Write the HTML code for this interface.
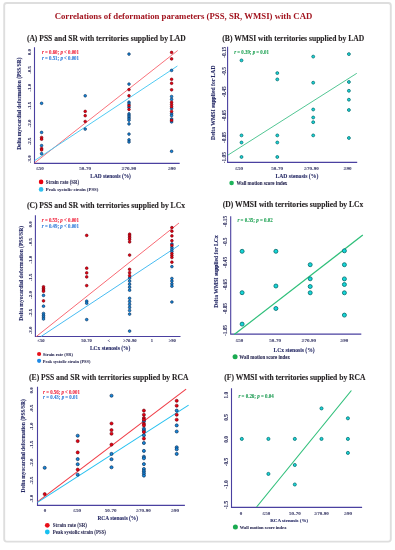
<!DOCTYPE html><html><head><meta charset="utf-8"><style>html,body{margin:0;padding:0;background:#fff;width:395px;height:550px;overflow:hidden}svg{display:block;will-change:transform;filter:blur(0.25px)}text{font-family:"Liberation Serif",serif}</style></head><body>
<svg width="395" height="550" viewBox="0 0 395 550">
<rect x="0" y="0" width="395" height="550" fill="#fff"/>
<rect x="4.2" y="3.0" width="386.6" height="538.6" rx="2.5" fill="none" stroke="#dedede" stroke-width="1.9"/>
<text x="54.70" y="18.86" font-size="8.74" fill="#a2141f" font-weight="bold" textLength="257.60" lengthAdjust="spacingAndGlyphs">Correlations of deformation parameters (PSS, SR, WMSI) with CAD</text>
<text x="26.90" y="40.92" font-size="7.19" fill="#231f20" font-weight="bold" textLength="158.90" lengthAdjust="spacingAndGlyphs" stroke="#231f20" stroke-width="0.1">(A) PSS and SR with territories supplied by LAD</text>
<path d="M34.5 47.3 V163.4 H179.7" fill="none" stroke="#4a40a0" stroke-width="1.1"/>
<text transform="translate(30.55,52.00) rotate(-90)" font-size="5.00" fill="#30305f" font-weight="bold" text-anchor="middle" stroke="#30305f" stroke-width="0.08">0.0</text>
<text transform="translate(30.55,69.88) rotate(-90)" font-size="5.00" fill="#30305f" font-weight="bold" text-anchor="middle" stroke="#30305f" stroke-width="0.08">-0.5</text>
<text transform="translate(30.55,87.76) rotate(-90)" font-size="5.00" fill="#30305f" font-weight="bold" text-anchor="middle" stroke="#30305f" stroke-width="0.08">-1.0</text>
<text transform="translate(30.55,105.64) rotate(-90)" font-size="5.00" fill="#30305f" font-weight="bold" text-anchor="middle" stroke="#30305f" stroke-width="0.08">-1.5</text>
<text transform="translate(30.55,123.52) rotate(-90)" font-size="5.00" fill="#30305f" font-weight="bold" text-anchor="middle" stroke="#30305f" stroke-width="0.08">-2.0</text>
<text transform="translate(30.55,141.40) rotate(-90)" font-size="5.00" fill="#30305f" font-weight="bold" text-anchor="middle" stroke="#30305f" stroke-width="0.08">-2.5</text>
<text transform="translate(30.55,159.28) rotate(-90)" font-size="5.00" fill="#30305f" font-weight="bold" text-anchor="middle" stroke="#30305f" stroke-width="0.08">-3.0</text>
<text transform="translate(20.89,103.65) rotate(-90)" font-size="5.40" fill="#262a66" font-weight="bold" text-anchor="middle" textLength="92.30" lengthAdjust="spacingAndGlyphs" stroke="#262a66" stroke-width="0.1">Delta myocardial deformation (PSS/SR)</text>
<text x="36.13" y="170.45" font-size="5.00" fill="#30305f" font-weight="bold" textLength="7.74" lengthAdjust="spacingAndGlyphs" stroke="#30305f" stroke-width="0.05">≤50</text>
<text x="79.37" y="170.45" font-size="5.00" fill="#30305f" font-weight="bold" textLength="11.66" lengthAdjust="spacingAndGlyphs" stroke="#30305f" stroke-width="0.05">50-70</text>
<text x="121.80" y="170.45" font-size="5.00" fill="#30305f" font-weight="bold" textLength="14.41" lengthAdjust="spacingAndGlyphs" stroke="#30305f" stroke-width="0.05">≥70-90</text>
<text x="168.13" y="170.45" font-size="5.00" fill="#30305f" font-weight="bold" textLength="7.74" lengthAdjust="spacingAndGlyphs" stroke="#30305f" stroke-width="0.05">≥90</text>
<text x="90.30" y="178.08" font-size="5.37" fill="#262a66" font-weight="bold" textLength="40.60" lengthAdjust="spacingAndGlyphs" stroke="#262a66" stroke-width="0.08">LAD stenosis (%)</text>
<line x1="34.6" y1="162.9" x2="177.7" y2="50.5" stroke="#f86a74" stroke-width="0.95"/>
<line x1="34.6" y1="160.6" x2="177.4" y2="66.0" stroke="#48c8f2" stroke-width="0.95"/>
<circle cx="41.6" cy="103.3" r="1.35" fill="#1488dc" stroke="#0a2850" stroke-width="0.6"/>
<circle cx="41.6" cy="132.4" r="1.35" fill="#1488dc" stroke="#0a2850" stroke-width="0.6"/>
<circle cx="41.6" cy="145.6" r="1.35" fill="#1488dc" stroke="#0a2850" stroke-width="0.6"/>
<circle cx="41.6" cy="153.7" r="1.35" fill="#1488dc" stroke="#0a2850" stroke-width="0.6"/>
<circle cx="85.2" cy="95.8" r="1.35" fill="#1488dc" stroke="#0a2850" stroke-width="0.6"/>
<circle cx="85.2" cy="129.1" r="1.35" fill="#1488dc" stroke="#0a2850" stroke-width="0.6"/>
<circle cx="129.0" cy="54.1" r="1.35" fill="#1488dc" stroke="#0a2850" stroke-width="0.6"/>
<circle cx="129.0" cy="84.1" r="1.35" fill="#1488dc" stroke="#0a2850" stroke-width="0.6"/>
<circle cx="129.0" cy="102.2" r="1.35" fill="#1488dc" stroke="#0a2850" stroke-width="0.6"/>
<circle cx="129.0" cy="104.0" r="1.35" fill="#1488dc" stroke="#0a2850" stroke-width="0.6"/>
<circle cx="129.0" cy="107.2" r="1.35" fill="#1488dc" stroke="#0a2850" stroke-width="0.6"/>
<circle cx="129.0" cy="113.9" r="1.35" fill="#1488dc" stroke="#0a2850" stroke-width="0.6"/>
<circle cx="129.0" cy="115.4" r="1.35" fill="#1488dc" stroke="#0a2850" stroke-width="0.6"/>
<circle cx="129.0" cy="117.0" r="1.35" fill="#1488dc" stroke="#0a2850" stroke-width="0.6"/>
<circle cx="129.0" cy="118.6" r="1.35" fill="#1488dc" stroke="#0a2850" stroke-width="0.6"/>
<circle cx="129.0" cy="120.2" r="1.35" fill="#1488dc" stroke="#0a2850" stroke-width="0.6"/>
<circle cx="129.0" cy="123.9" r="1.35" fill="#1488dc" stroke="#0a2850" stroke-width="0.6"/>
<circle cx="129.0" cy="134.1" r="1.35" fill="#1488dc" stroke="#0a2850" stroke-width="0.6"/>
<circle cx="129.0" cy="139.9" r="1.35" fill="#1488dc" stroke="#0a2850" stroke-width="0.6"/>
<circle cx="129.0" cy="142.0" r="1.35" fill="#1488dc" stroke="#0a2850" stroke-width="0.6"/>
<circle cx="171.6" cy="70.4" r="1.35" fill="#1488dc" stroke="#0a2850" stroke-width="0.6"/>
<circle cx="171.6" cy="96.5" r="1.35" fill="#1488dc" stroke="#0a2850" stroke-width="0.6"/>
<circle cx="171.6" cy="99.4" r="1.35" fill="#1488dc" stroke="#0a2850" stroke-width="0.6"/>
<circle cx="171.6" cy="108.6" r="1.35" fill="#1488dc" stroke="#0a2850" stroke-width="0.6"/>
<circle cx="171.6" cy="113.7" r="1.35" fill="#1488dc" stroke="#0a2850" stroke-width="0.6"/>
<circle cx="171.6" cy="115.6" r="1.35" fill="#1488dc" stroke="#0a2850" stroke-width="0.6"/>
<circle cx="171.6" cy="119.0" r="1.35" fill="#1488dc" stroke="#0a2850" stroke-width="0.6"/>
<circle cx="171.6" cy="121.9" r="1.35" fill="#1488dc" stroke="#0a2850" stroke-width="0.6"/>
<circle cx="171.6" cy="151.3" r="1.35" fill="#1488dc" stroke="#0a2850" stroke-width="0.6"/>
<circle cx="41.6" cy="137.5" r="1.35" fill="#e8000e" stroke="#6a0010" stroke-width="0.6"/>
<circle cx="41.6" cy="139.2" r="1.35" fill="#e8000e" stroke="#6a0010" stroke-width="0.6"/>
<circle cx="41.6" cy="148.6" r="1.35" fill="#e8000e" stroke="#6a0010" stroke-width="0.6"/>
<circle cx="41.6" cy="149.9" r="1.35" fill="#e8000e" stroke="#6a0010" stroke-width="0.6"/>
<circle cx="85.2" cy="111.4" r="1.35" fill="#e8000e" stroke="#6a0010" stroke-width="0.6"/>
<circle cx="85.2" cy="115.7" r="1.35" fill="#e8000e" stroke="#6a0010" stroke-width="0.6"/>
<circle cx="85.2" cy="121.5" r="1.35" fill="#e8000e" stroke="#6a0010" stroke-width="0.6"/>
<circle cx="129.0" cy="89.6" r="1.35" fill="#e8000e" stroke="#6a0010" stroke-width="0.6"/>
<circle cx="129.0" cy="95.8" r="1.35" fill="#e8000e" stroke="#6a0010" stroke-width="0.6"/>
<circle cx="129.0" cy="105.6" r="1.35" fill="#e8000e" stroke="#6a0010" stroke-width="0.6"/>
<circle cx="129.0" cy="109.4" r="1.35" fill="#e8000e" stroke="#6a0010" stroke-width="0.6"/>
<circle cx="171.6" cy="52.4" r="1.35" fill="#e8000e" stroke="#6a0010" stroke-width="0.6"/>
<circle cx="171.6" cy="58.9" r="1.35" fill="#e8000e" stroke="#6a0010" stroke-width="0.6"/>
<circle cx="171.6" cy="79.3" r="1.35" fill="#e8000e" stroke="#6a0010" stroke-width="0.6"/>
<circle cx="171.6" cy="83.3" r="1.35" fill="#e8000e" stroke="#6a0010" stroke-width="0.6"/>
<circle cx="171.6" cy="89.8" r="1.35" fill="#e8000e" stroke="#6a0010" stroke-width="0.6"/>
<circle cx="171.6" cy="102.3" r="1.35" fill="#e8000e" stroke="#6a0010" stroke-width="0.6"/>
<circle cx="171.6" cy="104.5" r="1.35" fill="#e8000e" stroke="#6a0010" stroke-width="0.6"/>
<circle cx="171.6" cy="106.7" r="1.35" fill="#e8000e" stroke="#6a0010" stroke-width="0.6"/>
<circle cx="171.6" cy="111.5" r="1.35" fill="#e8000e" stroke="#6a0010" stroke-width="0.6"/>
<circle cx="171.6" cy="120.3" r="1.35" fill="#e8000e" stroke="#6a0010" stroke-width="0.6"/>
<text x="41.90" y="54.44" font-size="5.54" fill="#f0203a" font-weight="bold" textLength="37.10" lengthAdjust="spacingAndGlyphs" stroke="#f0203a" stroke-width="0.08"><tspan font-style="italic">r</tspan> = 0.60; <tspan font-style="italic">p</tspan> &lt; 0.001</text>
<text x="41.90" y="60.34" font-size="5.54" fill="#2a78d8" font-weight="bold" textLength="37.10" lengthAdjust="spacingAndGlyphs" stroke="#2a78d8" stroke-width="0.08"><tspan font-style="italic">r</tspan> = 0.51; <tspan font-style="italic">p</tspan> &lt; 0.001</text>
<circle cx="41.1" cy="181.9" r="2.3" fill="#e8000e"/>
<text x="45.80" y="183.66" font-size="5.04" fill="#2b2b55" font-weight="bold" textLength="33.40" lengthAdjust="spacingAndGlyphs" stroke="#2b2b55" stroke-width="0.05">Strain rate (SR)</text>
<circle cx="41.1" cy="189.4" r="2.3" fill="#2fc0ef"/>
<text x="45.80" y="191.15" font-size="4.99" fill="#2b2b55" font-weight="bold" textLength="52.60" lengthAdjust="spacingAndGlyphs" stroke="#2b2b55" stroke-width="0.05">Peak systolic strain (PSS)</text>
<text x="222.30" y="40.82" font-size="7.21" fill="#231f20" font-weight="bold" textLength="141.90" lengthAdjust="spacingAndGlyphs" stroke="#231f20" stroke-width="0.1">(B) WMSI with territories supplied by LAD</text>
<path d="M227.6 46.8 V162.4 H357.2" fill="none" stroke="#4a40a0" stroke-width="1.1"/>
<text transform="translate(225.75,52.30) rotate(-90)" font-size="5.30" fill="#30305f" font-weight="bold" text-anchor="middle" stroke="#30305f" stroke-width="0.08">-0.15</text>
<text transform="translate(225.75,71.40) rotate(-90)" font-size="5.30" fill="#30305f" font-weight="bold" text-anchor="middle" stroke="#30305f" stroke-width="0.08">-0.5</text>
<text transform="translate(225.75,91.80) rotate(-90)" font-size="5.30" fill="#30305f" font-weight="bold" text-anchor="middle" stroke="#30305f" stroke-width="0.08">-0.45</text>
<text transform="translate(225.75,115.50) rotate(-90)" font-size="5.30" fill="#30305f" font-weight="bold" text-anchor="middle" stroke="#30305f" stroke-width="0.08">-0.65</text>
<text transform="translate(225.75,137.50) rotate(-90)" font-size="5.30" fill="#30305f" font-weight="bold" text-anchor="middle" stroke="#30305f" stroke-width="0.08">-0.85</text>
<text transform="translate(225.75,157.70) rotate(-90)" font-size="5.30" fill="#30305f" font-weight="bold" text-anchor="middle" stroke="#30305f" stroke-width="0.08">-1.05</text>
<text transform="translate(214.96,102.70) rotate(-90)" font-size="5.60" fill="#262a66" font-weight="bold" text-anchor="middle" textLength="74.40" lengthAdjust="spacingAndGlyphs" stroke="#262a66" stroke-width="0.1">Delta WMSI supplied for LAD</text>
<text x="235.33" y="170.15" font-size="5.00" fill="#30305f" font-weight="bold" textLength="7.74" lengthAdjust="spacingAndGlyphs" stroke="#30305f" stroke-width="0.05">≤50</text>
<text x="271.37" y="170.15" font-size="5.00" fill="#30305f" font-weight="bold" textLength="11.66" lengthAdjust="spacingAndGlyphs" stroke="#30305f" stroke-width="0.05">50-70</text>
<text x="304.30" y="170.15" font-size="5.00" fill="#30305f" font-weight="bold" textLength="14.41" lengthAdjust="spacingAndGlyphs" stroke="#30305f" stroke-width="0.05">≥70-90</text>
<text x="343.83" y="170.15" font-size="5.00" fill="#30305f" font-weight="bold" textLength="7.74" lengthAdjust="spacingAndGlyphs" stroke="#30305f" stroke-width="0.05">≥90</text>
<text x="275.40" y="178.19" font-size="5.68" fill="#262a66" font-weight="bold" textLength="42.90" lengthAdjust="spacingAndGlyphs" stroke="#262a66" stroke-width="0.08">LAD stenosis (%)</text>
<line x1="227.8" y1="155.2" x2="356.8" y2="73.3" stroke="#40c088" stroke-width="0.9"/>
<circle cx="241.5" cy="60.4" r="1.45" fill="#18d6da" stroke="#087070" stroke-width="0.8"/>
<circle cx="241.5" cy="135.4" r="1.45" fill="#18d6da" stroke="#087070" stroke-width="0.8"/>
<circle cx="241.5" cy="142.5" r="1.45" fill="#18d6da" stroke="#087070" stroke-width="0.8"/>
<circle cx="241.5" cy="157.0" r="1.45" fill="#18d6da" stroke="#087070" stroke-width="0.8"/>
<circle cx="277.3" cy="73.1" r="1.45" fill="#18d6da" stroke="#087070" stroke-width="0.8"/>
<circle cx="277.3" cy="79.4" r="1.45" fill="#18d6da" stroke="#087070" stroke-width="0.8"/>
<circle cx="277.3" cy="135.4" r="1.45" fill="#18d6da" stroke="#087070" stroke-width="0.8"/>
<circle cx="277.3" cy="142.5" r="1.45" fill="#18d6da" stroke="#087070" stroke-width="0.8"/>
<circle cx="277.3" cy="157.0" r="1.45" fill="#18d6da" stroke="#087070" stroke-width="0.8"/>
<circle cx="313.2" cy="56.6" r="1.45" fill="#18d6da" stroke="#087070" stroke-width="0.8"/>
<circle cx="313.2" cy="82.7" r="1.45" fill="#18d6da" stroke="#087070" stroke-width="0.8"/>
<circle cx="313.2" cy="109.5" r="1.45" fill="#18d6da" stroke="#087070" stroke-width="0.8"/>
<circle cx="313.2" cy="117.5" r="1.45" fill="#18d6da" stroke="#087070" stroke-width="0.8"/>
<circle cx="313.2" cy="122.2" r="1.45" fill="#18d6da" stroke="#087070" stroke-width="0.8"/>
<circle cx="313.2" cy="135.4" r="1.45" fill="#18d6da" stroke="#087070" stroke-width="0.8"/>
<circle cx="348.9" cy="54.1" r="1.45" fill="#18d6da" stroke="#087070" stroke-width="0.8"/>
<circle cx="348.9" cy="82.0" r="1.45" fill="#18d6da" stroke="#087070" stroke-width="0.8"/>
<circle cx="348.9" cy="90.8" r="1.45" fill="#18d6da" stroke="#087070" stroke-width="0.8"/>
<circle cx="348.9" cy="99.7" r="1.45" fill="#18d6da" stroke="#087070" stroke-width="0.8"/>
<circle cx="348.9" cy="110.0" r="1.45" fill="#18d6da" stroke="#087070" stroke-width="0.8"/>
<circle cx="348.9" cy="138.0" r="1.45" fill="#18d6da" stroke="#087070" stroke-width="0.8"/>
<text x="234.20" y="53.74" font-size="5.54" fill="#1aa050" font-weight="bold" textLength="34.70" lengthAdjust="spacingAndGlyphs" stroke="#1aa050" stroke-width="0.08"><tspan font-style="italic">r</tspan> = 0.39; <tspan font-style="italic">p</tspan> = 0.01</text>
<circle cx="231.6" cy="183.0" r="2.3" fill="#1db35a"/>
<text x="236.50" y="185.07" font-size="5.33" fill="#2b2b55" font-weight="bold" textLength="50.80" lengthAdjust="spacingAndGlyphs" stroke="#2b2b55" stroke-width="0.08">Wall motion score index</text>
<text x="26.90" y="207.83" font-size="7.23" fill="#231f20" font-weight="bold" textLength="158.10" lengthAdjust="spacingAndGlyphs" stroke="#231f20" stroke-width="0.1">(C) PSS and SR with territories supplied by LCx</text>
<path d="M35.4 215.2 V336.5 H180.5" fill="none" stroke="#4a40a0" stroke-width="1.1"/>
<text transform="translate(31.85,224.40) rotate(-90)" font-size="5.00" fill="#30305f" font-weight="bold" text-anchor="middle" stroke="#30305f" stroke-width="0.08">0.0</text>
<text transform="translate(31.85,242.07) rotate(-90)" font-size="5.00" fill="#30305f" font-weight="bold" text-anchor="middle" stroke="#30305f" stroke-width="0.08">-0.5</text>
<text transform="translate(31.85,259.74) rotate(-90)" font-size="5.00" fill="#30305f" font-weight="bold" text-anchor="middle" stroke="#30305f" stroke-width="0.08">-1.0</text>
<text transform="translate(31.85,277.41) rotate(-90)" font-size="5.00" fill="#30305f" font-weight="bold" text-anchor="middle" stroke="#30305f" stroke-width="0.08">-1.5</text>
<text transform="translate(31.85,295.08) rotate(-90)" font-size="5.00" fill="#30305f" font-weight="bold" text-anchor="middle" stroke="#30305f" stroke-width="0.08">-2.0</text>
<text transform="translate(31.85,312.75) rotate(-90)" font-size="5.00" fill="#30305f" font-weight="bold" text-anchor="middle" stroke="#30305f" stroke-width="0.08">-2.5</text>
<text transform="translate(31.85,330.42) rotate(-90)" font-size="5.00" fill="#30305f" font-weight="bold" text-anchor="middle" stroke="#30305f" stroke-width="0.08">-3.0</text>
<text transform="translate(23.19,273.35) rotate(-90)" font-size="5.40" fill="#262a66" font-weight="bold" text-anchor="middle" textLength="94.70" lengthAdjust="spacingAndGlyphs" stroke="#262a66" stroke-width="0.1">Delta myocardial deformation (PSS/SR)</text>
<text x="37.44" y="342.01" font-size="4.60" fill="#30305f" font-weight="bold" textLength="7.12" lengthAdjust="spacingAndGlyphs" stroke="#30305f" stroke-width="0.05">≤50</text>
<text x="81.13" y="342.01" font-size="4.60" fill="#30305f" font-weight="bold" textLength="10.73" lengthAdjust="spacingAndGlyphs" stroke="#30305f" stroke-width="0.05">50-70</text>
<text x="107.59" y="342.01" font-size="4.60" fill="#30305f" font-weight="bold" textLength="2.62" lengthAdjust="spacingAndGlyphs" stroke="#30305f" stroke-width="0.05">&lt;</text>
<text x="123.27" y="342.01" font-size="4.60" fill="#30305f" font-weight="bold" textLength="13.26" lengthAdjust="spacingAndGlyphs" stroke="#30305f" stroke-width="0.05">≥70-90</text>
<text x="150.75" y="342.01" font-size="4.60" fill="#30305f" font-weight="bold" textLength="2.30" lengthAdjust="spacingAndGlyphs" stroke="#30305f" stroke-width="0.05">1</text>
<text x="168.64" y="342.01" font-size="4.60" fill="#30305f" font-weight="bold" textLength="7.12" lengthAdjust="spacingAndGlyphs" stroke="#30305f" stroke-width="0.05">≥90</text>
<text x="89.90" y="349.53" font-size="5.52" fill="#262a66" font-weight="bold" textLength="40.50" lengthAdjust="spacingAndGlyphs" stroke="#262a66" stroke-width="0.08">LCx stenosis (%)</text>
<line x1="36.3" y1="336.5" x2="179.0" y2="223.0" stroke="#f86a74" stroke-width="1.0"/>
<line x1="41.0" y1="336.5" x2="179.0" y2="245.3" stroke="#48bcf2" stroke-width="1.0"/>
<circle cx="43.5" cy="295.4" r="1.35" fill="#1488dc" stroke="#0a2850" stroke-width="0.6"/>
<circle cx="43.5" cy="306.2" r="1.35" fill="#1488dc" stroke="#0a2850" stroke-width="0.6"/>
<circle cx="43.5" cy="313.5" r="1.35" fill="#1488dc" stroke="#0a2850" stroke-width="0.6"/>
<circle cx="43.5" cy="315.3" r="1.35" fill="#1488dc" stroke="#0a2850" stroke-width="0.6"/>
<circle cx="43.5" cy="317.1" r="1.35" fill="#1488dc" stroke="#0a2850" stroke-width="0.6"/>
<circle cx="43.5" cy="319.0" r="1.35" fill="#1488dc" stroke="#0a2850" stroke-width="0.6"/>
<circle cx="86.7" cy="301.2" r="1.35" fill="#1488dc" stroke="#0a2850" stroke-width="0.6"/>
<circle cx="86.7" cy="303.2" r="1.35" fill="#1488dc" stroke="#0a2850" stroke-width="0.6"/>
<circle cx="86.7" cy="319.6" r="1.35" fill="#1488dc" stroke="#0a2850" stroke-width="0.6"/>
<circle cx="129.6" cy="278.1" r="1.35" fill="#1488dc" stroke="#0a2850" stroke-width="0.6"/>
<circle cx="129.6" cy="281.1" r="1.35" fill="#1488dc" stroke="#0a2850" stroke-width="0.6"/>
<circle cx="129.6" cy="284.2" r="1.35" fill="#1488dc" stroke="#0a2850" stroke-width="0.6"/>
<circle cx="129.6" cy="287.2" r="1.35" fill="#1488dc" stroke="#0a2850" stroke-width="0.6"/>
<circle cx="129.6" cy="290.2" r="1.35" fill="#1488dc" stroke="#0a2850" stroke-width="0.6"/>
<circle cx="129.6" cy="298.3" r="1.35" fill="#1488dc" stroke="#0a2850" stroke-width="0.6"/>
<circle cx="129.6" cy="301.4" r="1.35" fill="#1488dc" stroke="#0a2850" stroke-width="0.6"/>
<circle cx="129.6" cy="304.4" r="1.35" fill="#1488dc" stroke="#0a2850" stroke-width="0.6"/>
<circle cx="129.6" cy="307.4" r="1.35" fill="#1488dc" stroke="#0a2850" stroke-width="0.6"/>
<circle cx="129.6" cy="310.5" r="1.35" fill="#1488dc" stroke="#0a2850" stroke-width="0.6"/>
<circle cx="129.6" cy="314.1" r="1.35" fill="#1488dc" stroke="#0a2850" stroke-width="0.6"/>
<circle cx="129.6" cy="331.1" r="1.35" fill="#1488dc" stroke="#0a2850" stroke-width="0.6"/>
<circle cx="171.9" cy="244.0" r="1.35" fill="#1488dc" stroke="#0a2850" stroke-width="0.6"/>
<circle cx="171.9" cy="247.4" r="1.35" fill="#1488dc" stroke="#0a2850" stroke-width="0.6"/>
<circle cx="171.9" cy="249.4" r="1.35" fill="#1488dc" stroke="#0a2850" stroke-width="0.6"/>
<circle cx="171.9" cy="251.4" r="1.35" fill="#1488dc" stroke="#0a2850" stroke-width="0.6"/>
<circle cx="171.9" cy="266.6" r="1.35" fill="#1488dc" stroke="#0a2850" stroke-width="0.6"/>
<circle cx="171.9" cy="278.5" r="1.35" fill="#1488dc" stroke="#0a2850" stroke-width="0.6"/>
<circle cx="171.9" cy="281.1" r="1.35" fill="#1488dc" stroke="#0a2850" stroke-width="0.6"/>
<circle cx="171.9" cy="283.8" r="1.35" fill="#1488dc" stroke="#0a2850" stroke-width="0.6"/>
<circle cx="171.9" cy="286.2" r="1.35" fill="#1488dc" stroke="#0a2850" stroke-width="0.6"/>
<circle cx="171.9" cy="302.0" r="1.35" fill="#1488dc" stroke="#0a2850" stroke-width="0.6"/>
<circle cx="43.5" cy="286.8" r="1.35" fill="#e8000e" stroke="#6a0010" stroke-width="0.6"/>
<circle cx="43.5" cy="288.4" r="1.35" fill="#e8000e" stroke="#6a0010" stroke-width="0.6"/>
<circle cx="43.5" cy="290.0" r="1.35" fill="#e8000e" stroke="#6a0010" stroke-width="0.6"/>
<circle cx="43.5" cy="291.3" r="1.35" fill="#e8000e" stroke="#6a0010" stroke-width="0.6"/>
<circle cx="43.5" cy="300.9" r="1.35" fill="#e8000e" stroke="#6a0010" stroke-width="0.6"/>
<circle cx="86.7" cy="235.4" r="1.35" fill="#e8000e" stroke="#6a0010" stroke-width="0.6"/>
<circle cx="86.7" cy="268.2" r="1.35" fill="#e8000e" stroke="#6a0010" stroke-width="0.6"/>
<circle cx="86.7" cy="272.9" r="1.35" fill="#e8000e" stroke="#6a0010" stroke-width="0.6"/>
<circle cx="86.7" cy="276.9" r="1.35" fill="#e8000e" stroke="#6a0010" stroke-width="0.6"/>
<circle cx="86.7" cy="285.6" r="1.35" fill="#e8000e" stroke="#6a0010" stroke-width="0.6"/>
<circle cx="129.6" cy="234.2" r="1.35" fill="#e8000e" stroke="#6a0010" stroke-width="0.6"/>
<circle cx="129.6" cy="235.9" r="1.35" fill="#e8000e" stroke="#6a0010" stroke-width="0.6"/>
<circle cx="129.6" cy="237.6" r="1.35" fill="#e8000e" stroke="#6a0010" stroke-width="0.6"/>
<circle cx="129.6" cy="239.3" r="1.35" fill="#e8000e" stroke="#6a0010" stroke-width="0.6"/>
<circle cx="129.6" cy="241.9" r="1.35" fill="#e8000e" stroke="#6a0010" stroke-width="0.6"/>
<circle cx="129.6" cy="255.1" r="1.35" fill="#e8000e" stroke="#6a0010" stroke-width="0.6"/>
<circle cx="129.6" cy="269.3" r="1.35" fill="#e8000e" stroke="#6a0010" stroke-width="0.6"/>
<circle cx="129.6" cy="272.7" r="1.35" fill="#e8000e" stroke="#6a0010" stroke-width="0.6"/>
<circle cx="129.6" cy="275.7" r="1.35" fill="#e8000e" stroke="#6a0010" stroke-width="0.6"/>
<circle cx="171.9" cy="227.6" r="1.35" fill="#e8000e" stroke="#6a0010" stroke-width="0.6"/>
<circle cx="171.9" cy="231.2" r="1.35" fill="#e8000e" stroke="#6a0010" stroke-width="0.6"/>
<circle cx="171.9" cy="235.9" r="1.35" fill="#e8000e" stroke="#6a0010" stroke-width="0.6"/>
<circle cx="171.9" cy="240.7" r="1.35" fill="#e8000e" stroke="#6a0010" stroke-width="0.6"/>
<circle cx="171.9" cy="245.4" r="1.35" fill="#e8000e" stroke="#6a0010" stroke-width="0.6"/>
<circle cx="171.9" cy="253.5" r="1.35" fill="#e8000e" stroke="#6a0010" stroke-width="0.6"/>
<circle cx="171.9" cy="255.5" r="1.35" fill="#e8000e" stroke="#6a0010" stroke-width="0.6"/>
<circle cx="171.9" cy="257.5" r="1.35" fill="#e8000e" stroke="#6a0010" stroke-width="0.6"/>
<circle cx="171.9" cy="262.2" r="1.35" fill="#e8000e" stroke="#6a0010" stroke-width="0.6"/>
<text x="41.80" y="222.04" font-size="5.55" fill="#f0203a" font-weight="bold" textLength="37.20" lengthAdjust="spacingAndGlyphs" stroke="#f0203a" stroke-width="0.08"><tspan font-style="italic">r</tspan> = 0.55; <tspan font-style="italic">p</tspan> &lt; 0.001</text>
<text x="41.80" y="227.74" font-size="5.55" fill="#2a78d8" font-weight="bold" textLength="37.20" lengthAdjust="spacingAndGlyphs" stroke="#2a78d8" stroke-width="0.08"><tspan font-style="italic">r</tspan> = 0.49; <tspan font-style="italic">p</tspan> &lt; 0.001</text>
<circle cx="39.1" cy="354.0" r="2.1" fill="#e8101a"/>
<text x="42.80" y="355.69" font-size="4.54" fill="#2b2b55" font-weight="bold" textLength="30.10" lengthAdjust="spacingAndGlyphs" stroke="#2b2b55" stroke-width="0.05">Strain rate (SR)</text>
<circle cx="39.1" cy="360.8" r="2.1" fill="#1e8ae6"/>
<text x="42.80" y="362.58" font-size="4.51" fill="#2b2b55" font-weight="bold" textLength="47.60" lengthAdjust="spacingAndGlyphs" stroke="#2b2b55" stroke-width="0.05">Peak systolic strain (PSS)</text>
<text x="222.80" y="206.82" font-size="7.21" fill="#231f20" font-weight="bold" textLength="140.60" lengthAdjust="spacingAndGlyphs" stroke="#231f20" stroke-width="0.1">(D) WMSI with territories supplied by LCx</text>
<path d="M230.7 216.2 V334.1 H361.3" fill="none" stroke="#4a40a0" stroke-width="1.1"/>
<text transform="translate(227.16,221.40) rotate(-90)" font-size="5.30" fill="#30305f" font-weight="bold" text-anchor="middle" stroke="#30305f" stroke-width="0.08">-0.15</text>
<text transform="translate(227.16,241.70) rotate(-90)" font-size="5.30" fill="#30305f" font-weight="bold" text-anchor="middle" stroke="#30305f" stroke-width="0.08">-0.5</text>
<text transform="translate(227.16,262.40) rotate(-90)" font-size="5.30" fill="#30305f" font-weight="bold" text-anchor="middle" stroke="#30305f" stroke-width="0.08">-0.45</text>
<text transform="translate(227.16,284.60) rotate(-90)" font-size="5.30" fill="#30305f" font-weight="bold" text-anchor="middle" stroke="#30305f" stroke-width="0.08">-0.65</text>
<text transform="translate(227.16,308.50) rotate(-90)" font-size="5.30" fill="#30305f" font-weight="bold" text-anchor="middle" stroke="#30305f" stroke-width="0.08">-0.85</text>
<text transform="translate(227.16,330.50) rotate(-90)" font-size="5.30" fill="#30305f" font-weight="bold" text-anchor="middle" stroke="#30305f" stroke-width="0.08">-1.05</text>
<text transform="translate(217.90,271.55) rotate(-90)" font-size="5.70" fill="#262a66" font-weight="bold" text-anchor="middle" textLength="72.50" lengthAdjust="spacingAndGlyphs" stroke="#262a66" stroke-width="0.1">Delta WMSI supplied for LCx</text>
<text x="235.63" y="342.05" font-size="5.00" fill="#30305f" font-weight="bold" textLength="7.74" lengthAdjust="spacingAndGlyphs" stroke="#30305f" stroke-width="0.05">≤50</text>
<text x="269.37" y="342.05" font-size="5.00" fill="#30305f" font-weight="bold" textLength="11.66" lengthAdjust="spacingAndGlyphs" stroke="#30305f" stroke-width="0.05">50-70</text>
<text x="301.70" y="342.05" font-size="5.00" fill="#30305f" font-weight="bold" textLength="14.41" lengthAdjust="spacingAndGlyphs" stroke="#30305f" stroke-width="0.05">≥70-90</text>
<text x="340.53" y="342.05" font-size="5.00" fill="#30305f" font-weight="bold" textLength="7.74" lengthAdjust="spacingAndGlyphs" stroke="#30305f" stroke-width="0.05">≥90</text>
<text x="273.40" y="351.67" font-size="5.63" fill="#262a66" font-weight="bold" textLength="41.30" lengthAdjust="spacingAndGlyphs" stroke="#262a66" stroke-width="0.08">LCx stenosis (%)</text>
<line x1="234.2" y1="334.6" x2="362.8" y2="235.1" stroke="#2fbf7a" stroke-width="1.3"/>
<circle cx="242.1" cy="251.3" r="2.0" fill="#14d6d8" stroke="#087070" stroke-width="0.85"/>
<circle cx="242.1" cy="292.7" r="2.0" fill="#14d6d8" stroke="#087070" stroke-width="0.85"/>
<circle cx="242.1" cy="324.1" r="2.0" fill="#14d6d8" stroke="#087070" stroke-width="0.85"/>
<circle cx="275.9" cy="251.3" r="2.0" fill="#14d6d8" stroke="#087070" stroke-width="0.85"/>
<circle cx="275.9" cy="286.0" r="2.0" fill="#14d6d8" stroke="#087070" stroke-width="0.85"/>
<circle cx="275.9" cy="308.5" r="2.0" fill="#14d6d8" stroke="#087070" stroke-width="0.85"/>
<circle cx="310.2" cy="264.7" r="2.0" fill="#14d6d8" stroke="#087070" stroke-width="0.85"/>
<circle cx="310.2" cy="278.8" r="2.0" fill="#14d6d8" stroke="#087070" stroke-width="0.85"/>
<circle cx="310.2" cy="286.5" r="2.0" fill="#14d6d8" stroke="#087070" stroke-width="0.85"/>
<circle cx="310.2" cy="292.8" r="2.0" fill="#14d6d8" stroke="#087070" stroke-width="0.85"/>
<circle cx="344.4" cy="250.8" r="2.0" fill="#14d6d8" stroke="#087070" stroke-width="0.85"/>
<circle cx="344.4" cy="264.7" r="2.0" fill="#14d6d8" stroke="#087070" stroke-width="0.85"/>
<circle cx="344.4" cy="278.9" r="2.0" fill="#14d6d8" stroke="#087070" stroke-width="0.85"/>
<circle cx="344.4" cy="284.5" r="2.0" fill="#14d6d8" stroke="#087070" stroke-width="0.85"/>
<circle cx="344.4" cy="292.8" r="2.0" fill="#14d6d8" stroke="#087070" stroke-width="0.85"/>
<circle cx="344.4" cy="315.1" r="2.0" fill="#14d6d8" stroke="#087070" stroke-width="0.85"/>
<text x="237.40" y="222.18" font-size="5.65" fill="#1aa050" font-weight="bold" textLength="35.40" lengthAdjust="spacingAndGlyphs" stroke="#1aa050" stroke-width="0.08"><tspan font-style="italic">r</tspan> = 0.35; <tspan font-style="italic">p</tspan> = 0.02</text>
<circle cx="235.1" cy="356.7" r="2.5" fill="#1aaa50"/>
<text x="239.30" y="358.66" font-size="5.31" fill="#2b2b55" font-weight="bold" textLength="50.60" lengthAdjust="spacingAndGlyphs" stroke="#2b2b55" stroke-width="0.08">Wall motion score index</text>
<text x="29.10" y="379.52" font-size="7.21" fill="#231f20" font-weight="bold" textLength="159.40" lengthAdjust="spacingAndGlyphs" stroke="#231f20" stroke-width="0.1">(E) PSS and SR with territories supplied by RCA</text>
<path d="M37.5 386.8 V505.4 H184.9" fill="none" stroke="#4a40a0" stroke-width="1.1"/>
<text transform="translate(33.35,390.30) rotate(-90)" font-size="5.00" fill="#30305f" font-weight="bold" text-anchor="middle" stroke="#30305f" stroke-width="0.08">0.0</text>
<text transform="translate(33.35,408.35) rotate(-90)" font-size="5.00" fill="#30305f" font-weight="bold" text-anchor="middle" stroke="#30305f" stroke-width="0.08">-0.5</text>
<text transform="translate(33.35,426.40) rotate(-90)" font-size="5.00" fill="#30305f" font-weight="bold" text-anchor="middle" stroke="#30305f" stroke-width="0.08">-1.0</text>
<text transform="translate(33.35,444.45) rotate(-90)" font-size="5.00" fill="#30305f" font-weight="bold" text-anchor="middle" stroke="#30305f" stroke-width="0.08">-1.5</text>
<text transform="translate(33.35,462.50) rotate(-90)" font-size="5.00" fill="#30305f" font-weight="bold" text-anchor="middle" stroke="#30305f" stroke-width="0.08">-2.0</text>
<text transform="translate(33.35,480.55) rotate(-90)" font-size="5.00" fill="#30305f" font-weight="bold" text-anchor="middle" stroke="#30305f" stroke-width="0.08">-2.5</text>
<text transform="translate(33.35,498.60) rotate(-90)" font-size="5.00" fill="#30305f" font-weight="bold" text-anchor="middle" stroke="#30305f" stroke-width="0.08">-3.0</text>
<text transform="translate(25.39,445.85) rotate(-90)" font-size="5.40" fill="#262a66" font-weight="bold" text-anchor="middle" textLength="93.30" lengthAdjust="spacingAndGlyphs" stroke="#262a66" stroke-width="0.1">Delta myocardial deformation (PSS/SR)</text>
<text x="43.85" y="511.95" font-size="5.00" fill="#30305f" font-weight="bold" textLength="2.50" lengthAdjust="spacingAndGlyphs" stroke="#30305f" stroke-width="0.05">0</text>
<text x="73.33" y="511.95" font-size="5.00" fill="#30305f" font-weight="bold" textLength="7.74" lengthAdjust="spacingAndGlyphs" stroke="#30305f" stroke-width="0.05">≤50</text>
<text x="104.77" y="511.95" font-size="5.00" fill="#30305f" font-weight="bold" textLength="11.66" lengthAdjust="spacingAndGlyphs" stroke="#30305f" stroke-width="0.05">50-70</text>
<text x="136.30" y="511.95" font-size="5.00" fill="#30305f" font-weight="bold" textLength="14.41" lengthAdjust="spacingAndGlyphs" stroke="#30305f" stroke-width="0.05">≥70-90</text>
<text x="171.33" y="511.95" font-size="5.00" fill="#30305f" font-weight="bold" textLength="7.74" lengthAdjust="spacingAndGlyphs" stroke="#30305f" stroke-width="0.05">≥90</text>
<text x="97.50" y="519.68" font-size="5.36" fill="#262a66" font-weight="bold" textLength="40.50" lengthAdjust="spacingAndGlyphs" stroke="#262a66" stroke-width="0.08">RCA stenosis (%)</text>
<line x1="37.5" y1="501.9" x2="186.1" y2="389.1" stroke="#f03c46" stroke-width="1.1"/>
<line x1="37.5" y1="502.4" x2="188.6" y2="405.1" stroke="#25c0f0" stroke-width="1.1"/>
<circle cx="44.7" cy="467.8" r="1.55" fill="#1488dc" stroke="#0a2850" stroke-width="0.65"/>
<circle cx="77.7" cy="435.7" r="1.55" fill="#1488dc" stroke="#0a2850" stroke-width="0.65"/>
<circle cx="77.7" cy="459.1" r="1.55" fill="#1488dc" stroke="#0a2850" stroke-width="0.65"/>
<circle cx="77.7" cy="464.2" r="1.55" fill="#1488dc" stroke="#0a2850" stroke-width="0.65"/>
<circle cx="77.7" cy="474.7" r="1.55" fill="#1488dc" stroke="#0a2850" stroke-width="0.65"/>
<circle cx="111.5" cy="395.7" r="1.55" fill="#1488dc" stroke="#0a2850" stroke-width="0.65"/>
<circle cx="111.5" cy="453.9" r="1.55" fill="#1488dc" stroke="#0a2850" stroke-width="0.65"/>
<circle cx="111.5" cy="459.2" r="1.55" fill="#1488dc" stroke="#0a2850" stroke-width="0.65"/>
<circle cx="111.5" cy="467.3" r="1.55" fill="#1488dc" stroke="#0a2850" stroke-width="0.65"/>
<circle cx="143.9" cy="421.3" r="1.55" fill="#1488dc" stroke="#0a2850" stroke-width="0.65"/>
<circle cx="143.9" cy="428.7" r="1.55" fill="#1488dc" stroke="#0a2850" stroke-width="0.65"/>
<circle cx="143.9" cy="430.4" r="1.55" fill="#1488dc" stroke="#0a2850" stroke-width="0.65"/>
<circle cx="143.9" cy="435.3" r="1.55" fill="#1488dc" stroke="#0a2850" stroke-width="0.65"/>
<circle cx="143.9" cy="443.0" r="1.55" fill="#1488dc" stroke="#0a2850" stroke-width="0.65"/>
<circle cx="143.9" cy="450.9" r="1.55" fill="#1488dc" stroke="#0a2850" stroke-width="0.65"/>
<circle cx="143.9" cy="456.7" r="1.55" fill="#1488dc" stroke="#0a2850" stroke-width="0.65"/>
<circle cx="143.9" cy="458.3" r="1.55" fill="#1488dc" stroke="#0a2850" stroke-width="0.65"/>
<circle cx="143.9" cy="464.1" r="1.55" fill="#1488dc" stroke="#0a2850" stroke-width="0.65"/>
<circle cx="143.9" cy="469.0" r="1.55" fill="#1488dc" stroke="#0a2850" stroke-width="0.65"/>
<circle cx="143.9" cy="471.2" r="1.55" fill="#1488dc" stroke="#0a2850" stroke-width="0.65"/>
<circle cx="143.9" cy="473.4" r="1.55" fill="#1488dc" stroke="#0a2850" stroke-width="0.65"/>
<circle cx="143.9" cy="475.6" r="1.55" fill="#1488dc" stroke="#0a2850" stroke-width="0.65"/>
<circle cx="176.7" cy="410.6" r="1.55" fill="#1488dc" stroke="#0a2850" stroke-width="0.65"/>
<circle cx="176.7" cy="425.4" r="1.55" fill="#1488dc" stroke="#0a2850" stroke-width="0.65"/>
<circle cx="176.7" cy="431.5" r="1.55" fill="#1488dc" stroke="#0a2850" stroke-width="0.65"/>
<circle cx="176.7" cy="447.3" r="1.55" fill="#1488dc" stroke="#0a2850" stroke-width="0.65"/>
<circle cx="176.7" cy="449.3" r="1.55" fill="#1488dc" stroke="#0a2850" stroke-width="0.65"/>
<circle cx="176.7" cy="453.9" r="1.55" fill="#1488dc" stroke="#0a2850" stroke-width="0.65"/>
<circle cx="44.7" cy="494.1" r="1.55" fill="#e8000e" stroke="#6a0010" stroke-width="0.6"/>
<circle cx="77.7" cy="441.1" r="1.55" fill="#e8000e" stroke="#6a0010" stroke-width="0.6"/>
<circle cx="77.7" cy="452.4" r="1.55" fill="#e8000e" stroke="#6a0010" stroke-width="0.6"/>
<circle cx="77.7" cy="469.6" r="1.55" fill="#e8000e" stroke="#6a0010" stroke-width="0.6"/>
<circle cx="111.5" cy="423.5" r="1.55" fill="#e8000e" stroke="#6a0010" stroke-width="0.6"/>
<circle cx="111.5" cy="430.1" r="1.55" fill="#e8000e" stroke="#6a0010" stroke-width="0.6"/>
<circle cx="111.5" cy="433.7" r="1.55" fill="#e8000e" stroke="#6a0010" stroke-width="0.6"/>
<circle cx="111.5" cy="444.6" r="1.55" fill="#e8000e" stroke="#6a0010" stroke-width="0.6"/>
<circle cx="143.9" cy="410.6" r="1.55" fill="#e8000e" stroke="#6a0010" stroke-width="0.6"/>
<circle cx="143.9" cy="414.7" r="1.55" fill="#e8000e" stroke="#6a0010" stroke-width="0.6"/>
<circle cx="143.9" cy="418.0" r="1.55" fill="#e8000e" stroke="#6a0010" stroke-width="0.6"/>
<circle cx="143.9" cy="419.7" r="1.55" fill="#e8000e" stroke="#6a0010" stroke-width="0.6"/>
<circle cx="143.9" cy="423.8" r="1.55" fill="#e8000e" stroke="#6a0010" stroke-width="0.6"/>
<circle cx="143.9" cy="425.4" r="1.55" fill="#e8000e" stroke="#6a0010" stroke-width="0.6"/>
<circle cx="143.9" cy="432.0" r="1.55" fill="#e8000e" stroke="#6a0010" stroke-width="0.6"/>
<circle cx="143.9" cy="438.6" r="1.55" fill="#e8000e" stroke="#6a0010" stroke-width="0.6"/>
<circle cx="176.7" cy="400.8" r="1.55" fill="#e8000e" stroke="#6a0010" stroke-width="0.6"/>
<circle cx="176.7" cy="405.7" r="1.55" fill="#e8000e" stroke="#6a0010" stroke-width="0.6"/>
<circle cx="176.7" cy="414.7" r="1.55" fill="#e8000e" stroke="#6a0010" stroke-width="0.6"/>
<circle cx="176.7" cy="419.7" r="1.55" fill="#e8000e" stroke="#6a0010" stroke-width="0.6"/>
<text x="43.10" y="393.92" font-size="5.48" fill="#f0203a" font-weight="bold" textLength="36.70" lengthAdjust="spacingAndGlyphs" stroke="#f0203a" stroke-width="0.08"><tspan font-style="italic">r</tspan> = 0.56; <tspan font-style="italic">p</tspan> &lt; 0.001</text>
<text x="43.10" y="398.94" font-size="5.55" fill="#2a78d8" font-weight="bold" textLength="34.80" lengthAdjust="spacingAndGlyphs" stroke="#2a78d8" stroke-width="0.08"><tspan font-style="italic">r</tspan> = 0.43; <tspan font-style="italic">p</tspan> = 0.01</text>
<circle cx="47.3" cy="525.3" r="2.4" fill="#e8101a"/>
<text x="52.80" y="527.40" font-size="5.16" fill="#2b2b55" font-weight="bold" textLength="34.20" lengthAdjust="spacingAndGlyphs" stroke="#2b2b55" stroke-width="0.05">Strain rate (SR)</text>
<circle cx="47.3" cy="532.0" r="2.4" fill="#18c0f0"/>
<text x="52.80" y="534.37" font-size="5.05" fill="#2b2b55" font-weight="bold" textLength="53.20" lengthAdjust="spacingAndGlyphs" stroke="#2b2b55" stroke-width="0.05">Peak systolic strain (PSS)</text>
<text x="224.30" y="379.91" font-size="7.17" fill="#231f20" font-weight="bold" textLength="141.10" lengthAdjust="spacingAndGlyphs" stroke="#231f20" stroke-width="0.1">(F) WMSI with territories supplied by RCA</text>
<path d="M231.5 388.3 V507.4 H362.1" fill="none" stroke="#4a40a0" stroke-width="1.1"/>
<text transform="translate(227.62,395.20) rotate(-90)" font-size="5.20" fill="#30305f" font-weight="bold" text-anchor="middle" stroke="#30305f" stroke-width="0.08">1.0</text>
<text transform="translate(227.62,417.40) rotate(-90)" font-size="5.20" fill="#30305f" font-weight="bold" text-anchor="middle" stroke="#30305f" stroke-width="0.08">0.5</text>
<text transform="translate(227.62,439.40) rotate(-90)" font-size="5.20" fill="#30305f" font-weight="bold" text-anchor="middle" stroke="#30305f" stroke-width="0.08">0.0</text>
<text transform="translate(227.62,462.10) rotate(-90)" font-size="5.20" fill="#30305f" font-weight="bold" text-anchor="middle" stroke="#30305f" stroke-width="0.08">-0.5</text>
<text transform="translate(227.62,484.60) rotate(-90)" font-size="5.20" fill="#30305f" font-weight="bold" text-anchor="middle" stroke="#30305f" stroke-width="0.08">-1.0</text>
<text transform="translate(227.62,505.00) rotate(-90)" font-size="5.20" fill="#30305f" font-weight="bold" text-anchor="middle" stroke="#30305f" stroke-width="0.08">-1.5</text>
<text x="239.75" y="514.55" font-size="5.00" fill="#30305f" font-weight="bold" textLength="2.50" lengthAdjust="spacingAndGlyphs" stroke="#30305f" stroke-width="0.05">0</text>
<text x="262.43" y="514.55" font-size="5.00" fill="#30305f" font-weight="bold" textLength="7.74" lengthAdjust="spacingAndGlyphs" stroke="#30305f" stroke-width="0.05">≤50</text>
<text x="289.07" y="514.55" font-size="5.00" fill="#30305f" font-weight="bold" textLength="11.66" lengthAdjust="spacingAndGlyphs" stroke="#30305f" stroke-width="0.05">50-70</text>
<text x="314.40" y="514.55" font-size="5.00" fill="#30305f" font-weight="bold" textLength="14.41" lengthAdjust="spacingAndGlyphs" stroke="#30305f" stroke-width="0.05">≥70-90</text>
<text x="344.33" y="514.55" font-size="5.00" fill="#30305f" font-weight="bold" textLength="7.74" lengthAdjust="spacingAndGlyphs" stroke="#30305f" stroke-width="0.05">≥90</text>
<text x="270.20" y="521.76" font-size="5.03" fill="#262a66" font-weight="bold" textLength="38.00" lengthAdjust="spacingAndGlyphs" stroke="#262a66" stroke-width="0.08">RCA stenosis (%)</text>
<line x1="256.6" y1="507.0" x2="351.4" y2="390.5" stroke="#2fbf7a" stroke-width="1.15"/>
<circle cx="241.8" cy="438.9" r="1.55" fill="#18d6da" stroke="#087070" stroke-width="0.8"/>
<circle cx="268.4" cy="438.9" r="1.55" fill="#18d6da" stroke="#087070" stroke-width="0.8"/>
<circle cx="268.4" cy="473.9" r="1.55" fill="#18d6da" stroke="#087070" stroke-width="0.8"/>
<circle cx="294.8" cy="438.9" r="1.55" fill="#18d6da" stroke="#087070" stroke-width="0.8"/>
<circle cx="294.8" cy="465.0" r="1.55" fill="#18d6da" stroke="#087070" stroke-width="0.8"/>
<circle cx="294.8" cy="484.5" r="1.55" fill="#18d6da" stroke="#087070" stroke-width="0.8"/>
<circle cx="321.5" cy="408.4" r="1.55" fill="#18d6da" stroke="#087070" stroke-width="0.8"/>
<circle cx="321.5" cy="438.9" r="1.55" fill="#18d6da" stroke="#087070" stroke-width="0.8"/>
<circle cx="347.9" cy="418.3" r="1.55" fill="#18d6da" stroke="#087070" stroke-width="0.8"/>
<circle cx="347.9" cy="438.9" r="1.55" fill="#18d6da" stroke="#087070" stroke-width="0.8"/>
<circle cx="347.9" cy="452.9" r="1.55" fill="#18d6da" stroke="#087070" stroke-width="0.8"/>
<text x="238.40" y="397.88" font-size="5.65" fill="#1a9a50" font-weight="bold" textLength="35.40" lengthAdjust="spacingAndGlyphs" stroke="#1a9a50" stroke-width="0.08"><tspan font-style="italic">r</tspan> = 0.26; <tspan font-style="italic">p</tspan> = 0.04</text>
<circle cx="235.4" cy="527.0" r="2.5" fill="#1aaa50"/>
<text x="239.80" y="529.21" font-size="4.89" fill="#2b2b55" font-weight="bold" textLength="46.60" lengthAdjust="spacingAndGlyphs" stroke="#2b2b55" stroke-width="0.08">Wall motion score index</text>
</svg></body></html>
